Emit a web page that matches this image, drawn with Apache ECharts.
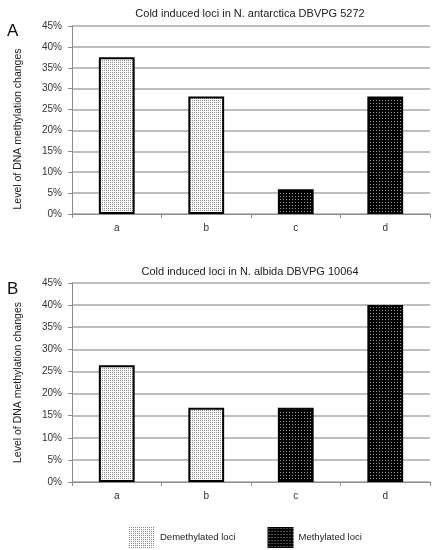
<!DOCTYPE html>
<html>
<head>
<meta charset="utf-8">
<script src="https://cdn.jsdelivr.net/npm/echarts@6/dist/echarts.min.js"></script>
<style>
  html, body { margin: 0; padding: 0; background: #fff; }
  #chart { width: 438px; height: 550px; }
</style>
</head>
<body>
<div id="chart"></div>
<script>
var categories = ['a', 'b', 'c', 'd'];
// which locus type each category belongs to
var locusType = ['Demethylated loci', 'Demethylated loci', 'Methylated loci', 'Methylated loci'];
var valuesA = [37.5, 28.1, 5.9, 28.1];
var valuesB = [26.4, 16.8, 16.8, 40.0];
var titleA = 'Cold induced loci in N. antarctica DBVPG 5272';
var titleB = 'Cold induced loci in N. albida DBVPG 10064';

var FONT = "'Liberation Sans', Arial, sans-serif";

function makePattern(bg, dot, w, h, dots) {
    var c = document.createElement('canvas');
    c.width = w;
    c.height = h;
    var ctx = c.getContext('2d');
    ctx.fillStyle = bg;
    ctx.fillRect(0, 0, w, h);
    ctx.fillStyle = dot;
    dots.forEach(function (d) {
        ctx.fillRect(d[0], d[1], 1, 1);
    });
    return { image: c, repeat: 'repeat' };
}

var lightFill = makePattern('#ffffff', '#8c8c8c', 2, 2, [[0, 0]]);
var darkFill = makePattern('#000000', '#9a9a9a', 3, 3, [[1, 1]]);

function pick(values, type) {
    return values.map(function (v, i) {
        return locusType[i] === type ? v : '-';
    });
}

function yAxis(gridIndex, namePad) {
    return {
        type: 'value',
        gridIndex: gridIndex,
        min: 0,
        max: 45,
        interval: 5,
        name: 'Level of DNA methylation changes',
        nameLocation: 'middle',
        nameGap: 48,
        nameTextStyle: { fontFamily: FONT, fontSize: 10.5, color: '#222', padding: namePad },
        axisLine: { show: true, lineStyle: { color: '#8c8c8c', width: 1 } },
        axisTick: { show: true, length: 4, lineStyle: { color: '#8c8c8c' } },
        axisLabel: {
            fontFamily: FONT, fontSize: 10, color: '#333', margin: 10,
            formatter: function (v) { return v + '%'; }
        },
        splitLine: { lineStyle: { color: '#a8a8a8', width: 1.5 } }
    };
}

function xAxis(gridIndex) {
    return {
        type: 'category',
        gridIndex: gridIndex,
        data: categories,
        axisLine: { lineStyle: { color: '#8c8c8c', width: 1 } },
        axisTick: { show: true, length: 4, lineStyle: { color: '#8c8c8c' } },
        axisLabel: { fontFamily: FONT, fontSize: 10, color: '#333', margin: 9 }
    };
}

function bars(name, data, fill, idx) {
    return {
        name: name,
        type: 'bar',
        xAxisIndex: idx,
        yAxisIndex: idx,
        data: data,
        barWidth: '40%',
        barGap: '-100%',
        itemStyle: { color: fill, borderColor: '#000', borderWidth: 2 },
        emphasis: { disabled: true }
    };
}

var chart = echarts.init(document.getElementById('chart'));
chart.setOption({
    animation: false,
    textStyle: { fontFamily: FONT },
    grid: [
        { left: 72, right: 8, top: 26, height: 188 },
        { left: 72, right: 8, top: 283, height: 199 }
    ],
    xAxis: [xAxis(0), xAxis(1)],
    yAxis: [yAxis(0, [0, 18, 0, 0]), yAxis(1, 0)],
    legend: {
        left: 124,
        top: 522,
        itemWidth: 26,
        itemHeight: 21,
        itemGap: 32,
        icon: 'rect',
        itemStyle: { borderWidth: 0 },
        textStyle: { fontFamily: FONT, fontSize: 9.5, color: '#222' },
        data: ['Demethylated loci', 'Methylated loci']
    },
    graphic: [
        { type: 'text', left: 7, top: 23, style: { text: 'A', font: '17px ' + FONT, fill: '#111' } },
        { type: 'text', left: 7, top: 281, style: { text: 'B', font: '17px ' + FONT, fill: '#111' } },
        { type: 'text', x: 250, y: 14, style: { text: titleA, font: '11px ' + FONT, fill: '#222', align: 'center', verticalAlign: 'middle' } },
        { type: 'text', x: 250, y: 272, style: { text: titleB, font: '11px ' + FONT, fill: '#222', align: 'center', verticalAlign: 'middle' } }
    ],
    series: [
        bars('Demethylated loci', pick(valuesA, 'Demethylated loci'), lightFill, 0),
        bars('Methylated loci', pick(valuesA, 'Methylated loci'), darkFill, 0),
        bars('Demethylated loci', pick(valuesB, 'Demethylated loci'), lightFill, 1),
        bars('Methylated loci', pick(valuesB, 'Methylated loci'), darkFill, 1)
    ]
});
</script>
</body>
</html>
